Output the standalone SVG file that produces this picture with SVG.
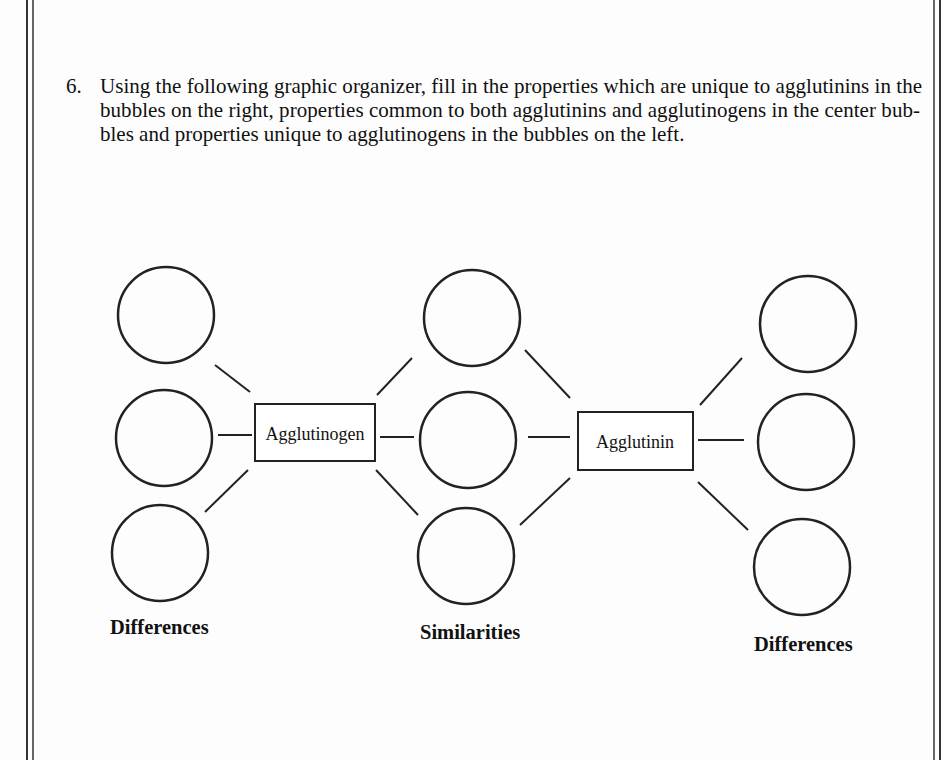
<svg xmlns="http://www.w3.org/2000/svg" width="944" height="760" viewBox="0 0 944 760">
<style>
.c{fill:none;stroke:#222;stroke-width:2.5}
.l{stroke:#222;stroke-width:2}
.b{fill:#fff;stroke:#222;stroke-width:2}
.t{font-family:"Liberation Serif",serif;font-size:21px;fill:#111}
.bx{font-family:"Liberation Serif",serif;font-size:18px;fill:#111}
.h{font-family:"Liberation Serif",serif;font-size:20.5px;font-weight:bold;fill:#111}
</style>
<rect width="944" height="760" fill="#fdfdfd"/>
<g id="border">
<line x1="27" y1="0" x2="27" y2="760" stroke="#333" stroke-width="2"/>
<line x1="33" y1="0" x2="33" y2="760" stroke="#333" stroke-width="1.5"/>
<line x1="934" y1="0" x2="934" y2="760" stroke="#333" stroke-width="1.5"/>
<line x1="940" y1="0" x2="940" y2="760" stroke="#333" stroke-width="2"/>
</g>
<g id="question">
<text class="t" x="66" y="93">6.</text>
<text class="t" x="100" y="93" textLength="822">Using the following graphic organizer, fill in the properties which are unique to agglutinins in the</text>
<text class="t" x="100" y="117" textLength="820">bubbles on the right, properties common to both agglutinins and agglutinogens in the center bub-</text>
<text class="t" x="100" y="141">bles and properties unique to agglutinogens in the bubbles on the left.</text>
</g>
<g id="connectors">
<line class="l" x1="215" y1="365" x2="250" y2="392"/>
<line class="l" x1="218" y1="435" x2="252" y2="435"/>
<line class="l" x1="205" y1="512" x2="248" y2="470"/>
<line class="l" x1="377" y1="395" x2="412" y2="358"/>
<line class="l" x1="380" y1="437" x2="414" y2="437"/>
<line class="l" x1="376" y1="470" x2="418" y2="515"/>
<line class="l" x1="525" y1="350" x2="570" y2="398"/>
<line class="l" x1="528" y1="437" x2="570" y2="437"/>
<line class="l" x1="520" y1="525" x2="570" y2="478"/>
<line class="l" x1="700" y1="405" x2="742" y2="358"/>
<line class="l" x1="698" y1="440" x2="744" y2="440"/>
<line class="l" x1="698" y1="482" x2="748" y2="530"/>
</g>
<g id="l1"><circle class="c" cx="166" cy="315" r="48"/></g>
<g id="l2"><circle class="c" cx="164" cy="438" r="48"/></g>
<g id="l3"><circle class="c" cx="160" cy="553" r="48"/></g>
<g id="c1"><circle class="c" cx="472" cy="318" r="48"/></g>
<g id="c2"><circle class="c" cx="468" cy="440" r="48"/></g>
<g id="c3"><circle class="c" cx="466" cy="556" r="48"/></g>
<g id="r1"><circle class="c" cx="808" cy="324" r="48"/></g>
<g id="r2"><circle class="c" cx="806" cy="442" r="48"/></g>
<g id="r3"><circle class="c" cx="802" cy="567" r="48"/></g>
<g id="agglutinogen"><rect class="b" x="255" y="404" width="120" height="57"/><text class="bx" x="315" y="440" text-anchor="middle">Agglutinogen</text></g>
<g id="agglutinin"><rect class="b" x="578" y="412" width="115" height="58"/><text class="bx" x="635" y="448" text-anchor="middle">Agglutinin</text></g>
<g id="labels">
<text class="h" x="110" y="634">Differences</text>
<text class="h" x="420" y="639">Similarities</text>
<text class="h" x="754" y="651">Differences</text>
</g>
</svg>
